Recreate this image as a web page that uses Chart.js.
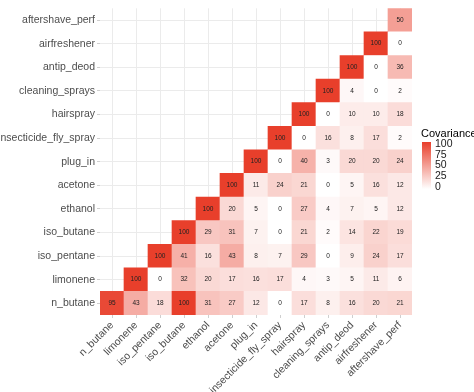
<!DOCTYPE html>
<html>
<head>
<meta charset="utf-8">
<script src="https://cdn.jsdelivr.net/npm/chart.js@4"></script>
<style>
  body { margin: 0; background: #fff; }
  #wrap { width: 474px; height: 392px; }
</style>
</head>
<body>
<div id="wrap"><canvas id="heat" width="474" height="392"></canvas></div>
<script>
const labels = ['n_butane', 'limonene', 'iso_pentane', 'iso_butane', 'ethanol', 'acetone', 'plug_in',
  'insecticide_fly_spray', 'hairspray', 'cleaning_sprays', 'antip_deod', 'airfreshener', 'aftershave_perf'];

// each row starts at its own column (the diagonal) and runs right
const n_butane = [95, 43, 18, 100, 31, 27, 12, 0, 17, 8, 16, 20, 21];
const limonene = [100, 0, 32, 20, 17, 16, 17, 4, 3, 5, 11, 6];
const iso_pentane = [100, 41, 16, 43, 8, 7, 29, 0, 9, 24, 17];
const iso_butane = [100, 29, 31, 7, 0, 21, 2, 14, 22, 19];
const ethanol = [100, 20, 5, 0, 27, 4, 7, 5, 12];
const acetone = [100, 11, 24, 21, 0, 5, 16, 12];
const plug_in = [100, 0, 40, 3, 20, 20, 24];
const insecticide_fly_spray = [100, 0, 16, 8, 17, 2];
const hairspray = [100, 0, 10, 10, 18];
const cleaning_sprays = [100, 4, 0, 2];
const antip_deod = [100, 0, 36];
const airfreshener = [100, 0];
const aftershave_perf = [50];

const legendTicks = [0, 25, 50, 75, 100];

const rows = [n_butane, limonene, iso_pentane, iso_butane, ethanol, acetone, plug_in,
  insecticide_fly_spray, hairspray, cleaning_sprays, antip_deod, airfreshener, aftershave_perf];

const high = [232, 63, 43];
function fillFor(v) {
  const t = Math.max(0, Math.min(1, v / 100));
  const c = high.map(h => Math.round(255 + (h - 255) * t));
  return `rgb(${c[0]},${c[1]},${c[2]})`;
}

const datasets = rows.map((row, i) => {
  const vals = labels.map((_, j) => j >= i ? row[j - i] : null);
  return {
    label: labels[i],
    values: vals,
    data: vals.map(v => v === null ? null : [i - 0.5, i + 0.5]),
    backgroundColor: vals.map(v => v === null ? 'rgba(0,0,0,0)' : fillFor(v)),
    borderWidth: 0,
    barPercentage: 1,
    categoryPercentage: 1,
    grouped: false
  };
});

const font = { family: 'Liberation Sans, Arial, sans-serif', size: 10.5 };

const cellText = {
  id: 'cellText',
  afterDatasetsDraw(chart) {
    const ctx = chart.ctx;
    ctx.save();
    ctx.font = '6.5px Liberation Sans, Arial, sans-serif';
    ctx.fillStyle = '#222';
    ctx.textAlign = 'center';
    ctx.textBaseline = 'middle';
    chart.data.datasets.forEach((ds, i) => {
      chart.getDatasetMeta(i).data.forEach((bar, j) => {
        const v = ds.values[j];
        if (v === null) return;
        ctx.fillText(String(v), bar.x, (bar.y + bar.base) / 2);
      });
    });
    ctx.restore();
  }
};

const colourBar = {
  id: 'colourBar',
  afterDraw(chart) {
    const ctx = chart.ctx;
    const x = chart.chartArea.right + 10;
    const top = 142, bottom = 189;
    ctx.save();
    ctx.fillStyle = '#000';
    ctx.font = '11px Liberation Sans, Arial, sans-serif';
    ctx.textBaseline = 'middle';
    ctx.fillText('Covariance', x - 1, 134);
    const g = ctx.createLinearGradient(0, top, 0, bottom);
    g.addColorStop(0, fillFor(100));
    g.addColorStop(1, fillFor(0));
    ctx.fillStyle = g;
    ctx.fillRect(x, top, 9, bottom - top);
    ctx.fillStyle = '#1a1a1a';
    ctx.font = '10.5px Liberation Sans, Arial, sans-serif';
    legendTicks.forEach(t => {
      const y = bottom - 2 - (bottom - top - 4) * t / 100;
      ctx.fillText(String(t), x + 13, y);
    });
    ctx.restore();
  }
};

new Chart(document.getElementById('heat'), {
  type: 'bar',
  data: { labels: labels, datasets: datasets },
  options: {
    responsive: false,
    animation: false,
    layout: { padding: { left: 0, right: 62, top: 3, bottom: 0 } },
    plugins: {
      legend: { display: false },
      tooltip: { enabled: false }
    },
    scales: {
      x: {
        type: 'category',
        offset: true,
        afterFit(scale) { scale.height = 77; },
        border: { display: false },
        grid: { offset: false, color: '#ebebeb', tickColor: '#cfcfcf', tickLength: 3 },
        ticks: { color: '#4d4d4d', font: font, maxRotation: 45, minRotation: 45, padding: 1, autoSkip: false }
      },
      y: {
        type: 'linear',
        min: -0.5,
        max: 12.5,
        afterFit(scale) { scale.width = 100; },
        afterBuildTicks(scale) { scale.ticks = labels.map((_, i) => ({ value: i })); },
        border: { display: false },
        grid: { color: '#ebebeb', tickColor: '#cfcfcf', tickLength: 3 },
        ticks: {
          color: '#4d4d4d',
          font: font,
          padding: 2,
          autoSkip: false,
          callback: v => labels[v]
        }
      }
    }
  },
  plugins: [cellText, colourBar]
});
</script>
</body>
</html>
